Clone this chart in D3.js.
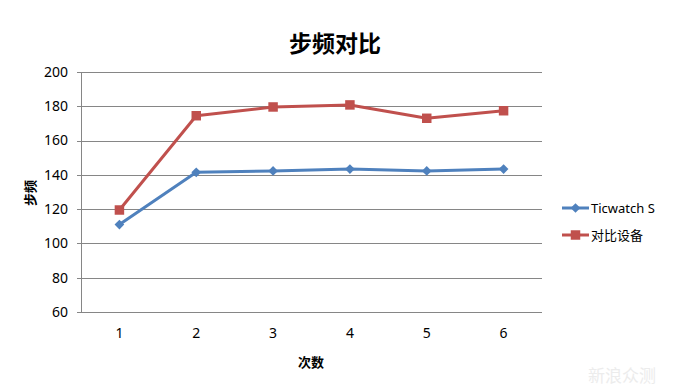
<!DOCTYPE html>
<html>
<head>
<meta charset="utf-8">
<script src="https://cdn.jsdelivr.net/npm/d3@7"></script>
<style>
  body { margin: 0; background: #fff; }
  text { font-family: "Noto Sans", "Noto Sans CJK SC", sans-serif; fill: #000; }
</style>
</head>
<body>
<div id="chart"></div>
<script>
const categories = ["1", "2", "3", "4", "5", "6"];
const ticwatch = [111, 141.5, 142.3, 143.4, 142.3, 143.4];
const compare = [119.5, 174.5, 179.6, 180.8, 173, 177.4];
const yTicks = [60, 80, 100, 120, 140, 160, 180, 200];
const seriesNames = ["Ticwatch S", "对比设备"];
const colors = ["#4F81BD", "#C0504D"];

const svgWidth = 673;
const svgHeight = 390;
const margin = { top: 72, right: 131, bottom: 78, left: 81 };
const width = svgWidth - margin.left - margin.right;
const height = svgHeight - margin.top - margin.bottom;

const svg = d3.select("#chart")
  .append("svg")
  .attr("width", svgWidth)
  .attr("height", svgHeight);

const chartGroup = svg.append("g")
  .attr("transform", `translate(${margin.left}, ${margin.top})`);

const x = d3.scaleBand().domain(categories).range([0, width]);
const y = d3.scaleLinear().domain([60, 200]).range([height, 0]);

// gridlines
chartGroup.append("g")
  .selectAll("line")
  .data(yTicks)
  .join("line")
  .attr("x1", -4)
  .attr("x2", width)
  .attr("y1", d => Math.round(y(d)) + 0.5)
  .attr("y2", d => Math.round(y(d)) + 0.5)
  .attr("stroke", "#868686")
  .attr("stroke-width", 1);

// y axis line
chartGroup.append("line")
  .attr("x1", 0.5).attr("x2", 0.5)
  .attr("y1", 0).attr("y2", height)
  .attr("stroke", "#868686");

// y labels
chartGroup.append("g")
  .selectAll("text")
  .data(yTicks)
  .join("text")
  .attr("x", -13)
  .attr("y", d => y(d))
  .attr("dy", "0.35em")
  .attr("text-anchor", "end")
  .style("font-size", "14px")
  .text(d => d);

// x labels
chartGroup.append("g")
  .selectAll("text")
  .data(categories)
  .join("text")
  .attr("x", d => x(d) + x.bandwidth() / 2)
  .attr("y", height + 26)
  .attr("text-anchor", "middle")
  .style("font-size", "14px")
  .text(d => d);

// title
svg.append("text")
  .attr("x", 335)
  .attr("y", 52)
  .attr("text-anchor", "middle")
  .style("font-family", "'Noto Sans CJK SC', sans-serif")
  .style("font-size", "23px")
  .style("font-weight", "bold")
  .text("步频对比");

// axis titles
svg.append("text")
  .attr("x", 311)
  .attr("y", 367)
  .attr("text-anchor", "middle")
  .style("font-family", "'Noto Sans CJK SC', sans-serif")
  .style("font-size", "13px")
  .style("font-weight", "bold")
  .text("次数");

svg.append("text")
  .attr("transform", "translate(35, 193) rotate(-90)")
  .attr("text-anchor", "middle")
  .style("font-family", "'Noto Sans CJK SC', sans-serif")
  .style("font-size", "13px")
  .style("font-weight", "bold")
  .text("步频");

const line = d3.line()
  .x((d, i) => x(categories[i]) + x.bandwidth() / 2)
  .y(d => y(d));

const allSeries = [ticwatch, compare];

allSeries.forEach(function(values, s) {
  chartGroup.append("path")
    .datum(values)
    .attr("d", line)
    .attr("fill", "none")
    .attr("stroke", colors[s])
    .attr("stroke-width", 3)
    .attr("stroke-linejoin", "round");
});

// markers
const diamond = d3.symbol().type(d3.symbolDiamond2).size(60);
const square = d3.symbol().type(d3.symbolSquare).size(90);

chartGroup.selectAll(".m0")
  .data(ticwatch)
  .join("path")
  .attr("transform", (d, i) => `translate(${x(categories[i]) + x.bandwidth() / 2}, ${y(d)})`)
  .attr("d", diamond)
  .attr("fill", colors[0]);

chartGroup.selectAll(".m1")
  .data(compare)
  .join("path")
  .attr("transform", (d, i) => `translate(${x(categories[i]) + x.bandwidth() / 2}, ${y(d)})`)
  .attr("d", square)
  .attr("fill", colors[1]);

// legend
const legend = svg.append("g").attr("transform", "translate(562, 208)");
seriesNames.forEach(function(name, i) {
  const g = legend.append("g").attr("transform", `translate(0, ${i * 27})`);
  g.append("line")
    .attr("x1", 0).attr("x2", 27)
    .attr("stroke", colors[i])
    .attr("stroke-width", 3);
  g.append("path")
    .attr("transform", "translate(13.5, 0)")
    .attr("d", i === 0 ? diamond : square)
    .attr("fill", colors[i]);
  g.append("text")
    .attr("x", 29)
    .attr("dy", "0.35em")
    .style("font-size", "13px")
    .text(name);
});

// watermark
svg.append("text")
  .attr("x", 588)
  .attr("y", 382)
  .style("font-family", "'Noto Sans CJK SC', sans-serif")
  .style("font-size", "17px")
  .style("fill", "#ececec")
  .text("新浪众测");
</script>
</body>
</html>
